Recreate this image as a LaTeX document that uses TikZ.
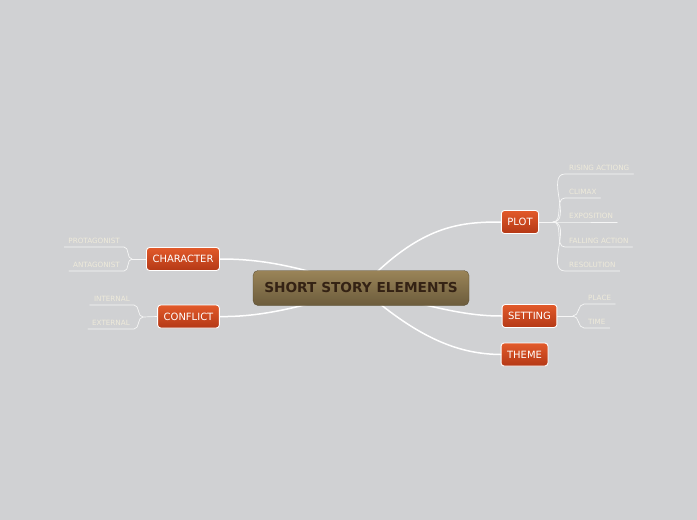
\documentclass[tikz,border=0pt]{standalone}
\usepackage{fontspec}
\setmainfont{DejaVu Sans}
\definecolor{bgcol}{RGB}{208,209,211}
\definecolor{maintop}{RGB}{154,132,88}
\definecolor{mainbot}{RGB}{108,92,60}
\definecolor{maintext}{RGB}{52,34,20}
\definecolor{topictop}{RGB}{226,90,42}
\definecolor{topicbot}{RGB}{180,56,22}
\definecolor{subtext}{RGB}{238,234,218}
\tikzset{
  mainnode/.style={rounded corners=5pt,top color=maintop,bottom color=mainbot,draw=mainbot!80!black,line width=0.3pt,
    minimum width=216pt,minimum height=35pt,text=maintext,font=\fontsize{13.7}{15}\selectfont\bfseries},
  topicnode/.style={rounded corners=3pt,top color=topictop,bottom color=topicbot,draw=white,line width=0.9pt,
    minimum height=23pt,inner xsep=6pt,text=white,font=\fontsize{10}{12}\selectfont},
  subnode/.style={text=subtext,font=\fontsize{7.2}{8}\selectfont,inner xsep=4pt,inner ysep=3pt,text depth=0pt},
  mainline/.style={draw=white,line width=1.5pt},
  subline/.style={draw=white!80!bgcol,line width=0.7pt}
}
\begin{document}
\begin{tikzpicture}[x=1pt,y=-1pt,line cap=round,line join=round]
			\fill [bgcol] (0,0) rectangle (697,520);
			\useasboundingbox (0,0) rectangle (697,520);
			% topics
			\node [topicnode] (plot) at (520,222) {PLOT};
			\node [topicnode] (character) at (183,259) {CHARACTER};
			\node [topicnode] (conflict) at (188.5,316.5) {CONFLICT};
			\node [topicnode] (setting) at (529.5,316) {SETTING};
			\node [topicnode] (theme) at (524.5,354.5) {THEME};
			\coordinate (centre) at (361,288);
			% main branches
			\draw [mainline] (centre) .. controls (420,225) and (460,222) .. (plot.west);
			\draw [mainline] (centre) .. controls (290,262) and (250,259) .. (character.east);
			\draw [mainline] (centre) .. controls (290,312) and (250,317) .. (conflict.east);
			\draw [mainline] (centre) .. controls (440,310) and (470,316) .. (setting.west);
			\draw [mainline] (centre) .. controls (420,340) and (460,354) .. (theme.west);
			\node [mainnode] (main) at (centre) {SHORT STORY ELEMENTS};
			% right side sub topics
			\coordinate (plotb) at (553,222);
			\draw [subline] (plot.east) -- (plotb);
			\foreach \n/\y/\t in {rising/174/RISING ACTIONG,climax/198/CLIMAX,exposition/222/EXPOSITION,falling/247/FALLING ACTION,resolution/271/RESOLUTION}{
				\node [subnode,anchor=south west] (\n) at (565,\y) {\t};
				\draw [subline] (plotb) to [out=0,in=180] (\n.south west) -- (\n.south east);
			}
			\coordinate (settingb) at (573,316);
			\draw [subline] (setting.east) -- (settingb);
			\foreach \n/\y/\t in {place/304/PLACE,time/328/TIME}{
				\node [subnode,anchor=south west] (\n) at (584,\y) {\t};
				\draw [subline] (settingb) to [out=0,in=180] (\n.south west) -- (\n.south east);
			}
			% left side sub topics
			\coordinate (characterb) at (132,259);
			\draw [subline] (character.west) -- (characterb);
			\foreach \n/\y/\t in {protagonist/247/PROTAGONIST,antagonist/271/ANTAGONIST}{
				\node [subnode,anchor=south east] (\n) at (124,\y) {\t};
				\draw [subline] (characterb) to [out=180,in=0] (\n.south east) -- (\n.south west);
			}
			\coordinate (conflictb) at (143,317);
			\draw [subline] (conflict.west) -- (conflictb);
			\foreach \n/\y/\t in {internal/305/INTERNAL,external/329/EXTERNAL}{
				\node [subnode,anchor=south east] (\n) at (134,\y) {\t};
				\draw [subline] (conflictb) to [out=180,in=0] (\n.south east) -- (\n.south west);
			}
\end{tikzpicture}
\end{document}
